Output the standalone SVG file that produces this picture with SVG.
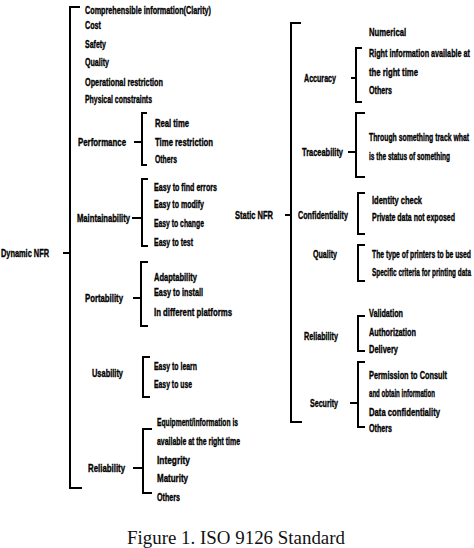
<svg xmlns="http://www.w3.org/2000/svg" width="474" height="548" viewBox="0 0 474 548">
<style>
.t{font-family:"Liberation Sans",Arial,sans-serif;font-weight:bold;font-size:10.5px;fill:#000;stroke:#000;stroke-width:0.35}
.c{font-family:"Liberation Serif","Times New Roman",serif;font-size:18.5px;fill:#111}
.b{fill:none;stroke:#000;stroke-width:2}
</style>
<rect width="474" height="548" fill="#fff"/>
<g id="connectors">
<path class="b" d="M80,7 H70 V488 H82 M63,253 H70"/>
<path class="b" d="M147,113 H142 V165 H147 M134,142 H142"/>
<path class="b" d="M148,179 H142 V246 H148 M132,218 H142"/>
<path class="b" d="M148,262 H141 V326 H148 M133,298 H141"/>
<path class="b" d="M150,357 H143 V397 H150"/>
<path class="b" d="M152,429 H143 V493 H152 M133,468 H143"/>
<path class="b" d="M301,23 H291 V422 H302 M285,215 H291"/>
<path class="b" d="M362,48 H356 V102 H362 M351,78 H356"/>
<path class="b" d="M365,113 H356 V177 H365 M348,152 H356"/>
<path class="b" d="M365,193 H358 V234 H365"/>
<path class="b" d="M365,245 H358 V281 H365"/>
<path class="b" d="M365,316 H358 V351 H365"/>
<path class="b" d="M365,362 H358 V427 H365 M350,403 H358"/>
</g>
<g id="dynamic-nfr"><text class="t" transform="translate(1,257) scale(0.7 1)" textLength="68.6" lengthAdjust="spacingAndGlyphs">Dynamic NFR</text></g>
<g id="general">
<text class="t" transform="translate(85,13.5) scale(0.7 1)" textLength="180" lengthAdjust="spacingAndGlyphs">Comprehensible information(Clarity)</text>
<text class="t" transform="translate(85,28.5) scale(0.7 1)" textLength="22.9" lengthAdjust="spacingAndGlyphs">Cost</text>
<text class="t" transform="translate(85,47.5) scale(0.7 1)" textLength="30" lengthAdjust="spacingAndGlyphs">Safety</text>
<text class="t" transform="translate(85,65.5) scale(0.7 1)" textLength="34.3" lengthAdjust="spacingAndGlyphs">Quality</text>
<text class="t" transform="translate(85,85.5) scale(0.7 1)" textLength="111.4" lengthAdjust="spacingAndGlyphs">Operational restriction</text>
<text class="t" transform="translate(85,102.5) scale(0.7 1)" textLength="95.7" lengthAdjust="spacingAndGlyphs">Physical constraints</text>
</g>
<g id="performance">
<text class="t" transform="translate(78,145.5) scale(0.7 1)" textLength="68.6" lengthAdjust="spacingAndGlyphs">Performance</text>
<text class="t" transform="translate(155,126.5) scale(0.7 1)" textLength="48.6" lengthAdjust="spacingAndGlyphs">Real time</text>
<text class="t" transform="translate(155,145.5) scale(0.7 1)" textLength="82.9" lengthAdjust="spacingAndGlyphs">Time restriction</text>
<text class="t" transform="translate(155,162.5) scale(0.7 1)" textLength="31.4" lengthAdjust="spacingAndGlyphs">Others</text>
</g>
<g id="maintainability">
<text class="t" transform="translate(77,221.5) scale(0.7 1)" textLength="75.7" lengthAdjust="spacingAndGlyphs">Maintainability</text>
<text class="t" transform="translate(154,190.5) scale(0.7 1)" textLength="90" lengthAdjust="spacingAndGlyphs">Easy to find errors</text>
<text class="t" transform="translate(154,207.5) scale(0.7 1)" textLength="71.4" lengthAdjust="spacingAndGlyphs">Easy to modify</text>
<text class="t" transform="translate(154,226.5) scale(0.7 1)" textLength="71.4" lengthAdjust="spacingAndGlyphs">Easy to change</text>
<text class="t" transform="translate(154,245.5) scale(0.7 1)" textLength="55.7" lengthAdjust="spacingAndGlyphs">Easy to test</text>
</g>
<g id="portability">
<text class="t" transform="translate(85,301.5) scale(0.7 1)" textLength="54.3" lengthAdjust="spacingAndGlyphs">Portability</text>
<text class="t" transform="translate(154,280.5) scale(0.7 1)" textLength="61.4" lengthAdjust="spacingAndGlyphs">Adaptability</text>
<text class="t" transform="translate(154,295.5) scale(0.7 1)" textLength="70" lengthAdjust="spacingAndGlyphs">Easy to install</text>
<text class="t" transform="translate(154,315.5) scale(0.7 1)" textLength="111.4" lengthAdjust="spacingAndGlyphs">In different platforms</text>
</g>
<g id="usability">
<text class="t" transform="translate(92,376.5) scale(0.7 1)" textLength="44.3" lengthAdjust="spacingAndGlyphs">Usability</text>
<text class="t" transform="translate(154,369.5) scale(0.7 1)" textLength="61.4" lengthAdjust="spacingAndGlyphs">Easy to learn</text>
<text class="t" transform="translate(154,387.5) scale(0.7 1)" textLength="54.3" lengthAdjust="spacingAndGlyphs">Easy to use</text>
</g>
<g id="reliability-dynamic">
<text class="t" transform="translate(88,471.5) scale(0.7 1)" textLength="52.9" lengthAdjust="spacingAndGlyphs">Reliability</text>
<text class="t" transform="translate(157,425.5) scale(0.7 1)" textLength="115.7" lengthAdjust="spacingAndGlyphs">Equipment/information is</text>
<text class="t" transform="translate(157,444.5) scale(0.7 1)" textLength="118.6" lengthAdjust="spacingAndGlyphs">available at the right time</text>
<text class="t" transform="translate(157,463.5) scale(0.7 1)" textLength="47.1" lengthAdjust="spacingAndGlyphs">Integrity</text>
<text class="t" transform="translate(157,481.5) scale(0.7 1)" textLength="44.3" lengthAdjust="spacingAndGlyphs">Maturity</text>
<text class="t" transform="translate(157,500.5) scale(0.7 1)" textLength="32.9" lengthAdjust="spacingAndGlyphs">Others</text>
</g>
<g id="static-nfr"><text class="t" transform="translate(235,218.5) scale(0.7 1)" textLength="54.3" lengthAdjust="spacingAndGlyphs">Static NFR</text></g>
<g id="accuracy">
<text class="t" transform="translate(304,81.5) scale(0.7 1)" textLength="45.7" lengthAdjust="spacingAndGlyphs">Accuracy</text>
<text class="t" transform="translate(369,35.5) scale(0.7 1)" textLength="52.9" lengthAdjust="spacingAndGlyphs">Numerical</text>
<text class="t" transform="translate(369,56.5) scale(0.66 1)" textLength="153" lengthAdjust="spacingAndGlyphs">Right information available at</text>
<text class="t" transform="translate(369,75.5) scale(0.7 1)" textLength="70" lengthAdjust="spacingAndGlyphs">the right time</text>
<text class="t" transform="translate(369,93.5) scale(0.7 1)" textLength="32.9" lengthAdjust="spacingAndGlyphs">Others</text>
</g>
<g id="traceability">
<text class="t" transform="translate(302,155.5) scale(0.7 1)" textLength="58.6" lengthAdjust="spacingAndGlyphs">Traceability</text>
<text class="t" transform="translate(369,140.5) scale(0.62 1)" textLength="161.3" lengthAdjust="spacingAndGlyphs">Through something track what</text>
<text class="t" transform="translate(369,159.5) scale(0.7 1)" textLength="115.7" lengthAdjust="spacingAndGlyphs">is the status of something</text>
</g>
<g id="confidentiality">
<text class="t" transform="translate(298,218.5) scale(0.7 1)" textLength="71.4" lengthAdjust="spacingAndGlyphs">Confidentiality</text>
<text class="t" transform="translate(372,203.5) scale(0.7 1)" textLength="71.4" lengthAdjust="spacingAndGlyphs">Identity check</text>
<text class="t" transform="translate(372,220.5) scale(0.7 1)" textLength="118.6" lengthAdjust="spacingAndGlyphs">Private data not exposed</text>
</g>
<g id="quality-static">
<text class="t" transform="translate(313,257.5) scale(0.7 1)" textLength="34.3" lengthAdjust="spacingAndGlyphs">Quality</text>
<text class="t" transform="translate(372,257.5) scale(0.62 1)" textLength="159.7" lengthAdjust="spacingAndGlyphs">The type of printers to be used</text>
<text class="t" transform="translate(372,275.5) scale(0.62 1)" textLength="159.7" lengthAdjust="spacingAndGlyphs">Specific criteria for printing data</text>
</g>
<g id="reliability-static">
<text class="t" transform="translate(304,339.5) scale(0.7 1)" textLength="48.6" lengthAdjust="spacingAndGlyphs">Reliability</text>
<text class="t" transform="translate(369,316.5) scale(0.7 1)" textLength="48.6" lengthAdjust="spacingAndGlyphs">Validation</text>
<text class="t" transform="translate(369,335.5) scale(0.7 1)" textLength="67.1" lengthAdjust="spacingAndGlyphs">Authorization</text>
<text class="t" transform="translate(369,352.5) scale(0.7 1)" textLength="41.4" lengthAdjust="spacingAndGlyphs">Delivery</text>
</g>
<g id="security">
<text class="t" transform="translate(310,406.5) scale(0.7 1)" textLength="40" lengthAdjust="spacingAndGlyphs">Security</text>
<text class="t" transform="translate(369,378.5) scale(0.7 1)" textLength="111.4" lengthAdjust="spacingAndGlyphs">Permission to Consult</text>
<text class="t" transform="translate(369,396.5) scale(0.7 1)" textLength="94.3" lengthAdjust="spacingAndGlyphs">and obtain information</text>
<text class="t" transform="translate(369,415.5) scale(0.7 1)" textLength="101.4" lengthAdjust="spacingAndGlyphs">Data confidentiality</text>
<text class="t" transform="translate(369,431.5) scale(0.7 1)" textLength="32.9" lengthAdjust="spacingAndGlyphs">Others</text>
</g>
<g id="caption"><text class="c" x="127" y="544" textLength="218" lengthAdjust="spacingAndGlyphs">Figure 1. ISO 9126 Standard</text></g>
</svg>
